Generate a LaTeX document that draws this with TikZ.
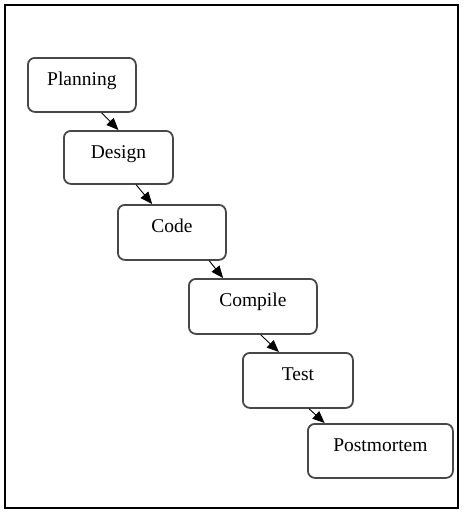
\documentclass[tikz,border=0pt]{standalone}
\usepackage{fontspec}
\setmainfont{Liberation Serif}
\usetikzlibrary{arrows.meta,calc}
\begin{document}
\begin{tikzpicture}[x=1pt,y=-1pt,
  stage/.style={draw=black!72, line width=1.8pt, rounded corners=7pt, anchor=north west,
    inner sep=0pt, align=center, font=\fontsize{19.5}{22}\selectfont, text height=28pt},
  flow/.style={draw=black, line width=0.9pt, -{Triangle[length=12pt,width=10pt]}}]
\useasboundingbox (0,0) rectangle (464,514);
\draw[line width=1.6pt] (5,5) rectangle (458,508);
\node[stage, text width=108pt, text depth=26pt] (plan) at (27,57) {Planning};
\node[stage, text width=109pt, text depth=25pt] (design) at (63,130) {Design};
\node[stage, text width=108pt, text depth=27pt] (code) at (117,204) {Code};
\node[stage, text width=128pt, text depth=27pt] (compile) at (188,278) {Compile};
\node[stage, text width=110pt, text depth=27pt] (test) at (242,352) {Test};
\node[stage, text width=145pt, text depth=26pt] (post) at (307,423) {Postmortem};
\draw[flow] ($(plan.south west)!0.68!(plan.south east)$) -- ($(design.north west)!0.5!(design.north east)$);
\draw[flow] ($(design.south west)!0.66!(design.south east)$) -- ($(code.north west)!0.32!(code.north east)$);
\draw[flow] ($(code.south west)!0.84!(code.south east)$) -- ($(compile.north west)!0.27!(compile.north east)$);
\draw[flow] ($(compile.south west)!0.56!(compile.south east)$) -- ($(test.north west)!0.33!(test.north east)$);
\draw[flow] ($(test.south west)!0.6!(test.south east)$) -- ($(post.north west)!0.12!(post.north east)$);
\end{tikzpicture}
\end{document}
